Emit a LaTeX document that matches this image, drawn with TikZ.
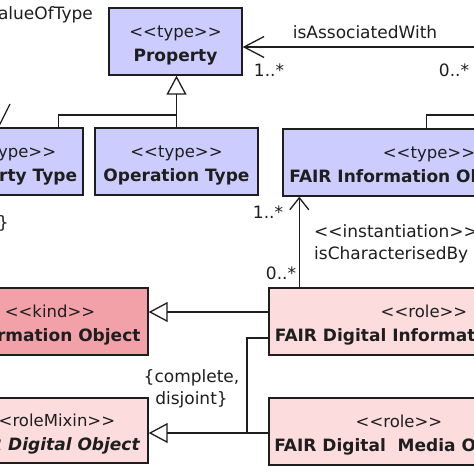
\documentclass[tikz,border=0pt]{standalone}
\usepackage{fontspec}
\setmainfont{DejaVu Sans}
\usetikzlibrary{arrows.meta}
\definecolor{typefill}{HTML}{CCCCFF}
\definecolor{kindfill}{HTML}{F3A1A8}
\definecolor{rolefill}{HTML}{FCDCDD}
\definecolor{linec}{HTML}{1E1E1E}
\newcommand\stereo[1]{<{}<#1>{}>}
\newcommand\boxtext[2]{\rule{0pt}{21pt}#1\\{\bfseries\fontsize{17}{24}\selectfont #2}\rule[-6pt]{0pt}{6pt}}
\begin{document}
\begin{tikzpicture}[x=1pt,y=-1pt,
  box/.style={draw=linec, line width=1.4pt, minimum height=67pt, inner sep=0pt,
    align=center, text=linec, font=\fontsize{16.5}{24}\selectfont},
  typebox/.style={box, fill=typefill},
  kindbox/.style={box, fill=kindfill},
  rolebox/.style={box, fill=rolefill},
  lbl/.style={text=linec, inner sep=0pt, font=\fontsize{17}{22}\selectfont},
  conn/.style={draw=linec, line width=1.3pt},
  gen/.style={conn, -{Triangle[open, length=19pt, width=20pt, line width=1.3pt]}},
  assocA/.style={conn, -{Straight Barb[length=20pt, width=21pt, line width=1.3pt]}},
  assocB/.style={conn, -{Straight Barb[length=12pt, width=19pt, line width=1.3pt]}}
]
\useasboundingbox (0,0) rectangle (474,474);
\clip (0,0) rectangle (474,474);
\fill[white] (0,0) rectangle (474,474);

% boxes
\node[typebox, minimum width=133pt] (prop) at (175.5,41.5) {\boxtext{\stereo{type}}{Property}};
\node[typebox, minimum width=146pt] (ptype) at (10,161.5) {\boxtext{\stereo{type}}{Property Type}};
\node[typebox, minimum width=163pt] (otype) at (176.5,161.5) {\boxtext{\stereo{type}}{Operation Type}};
\node[typebox, minimum width=292pt] (fiot) at (429,162.5) {\boxtext{\stereo{type}}{FAIR Information Object Type}};
\node[kindbox, minimum width=196pt] (io) at (50,321.5) {\boxtext{\stereo{kind}}{Information Object}};
\node[rolebox, minimum width=310pt] (fdio) at (424,321.5) {\boxtext{\stereo{role}}{FAIR Digital Information Object}};
\node[rolebox, minimum width=196pt, minimum height=65pt] (fdo) at (50,430.5) {\boxtext{\stereo{roleMixin}}{\itshape FAIR Digital Object}};
\node[rolebox, minimum width=260pt] (fdmo) at (399,431.5) {\boxtext{\stereo{role}}{FAIR Digital\ \ Media Object}};

% free ends
\coordinate (g1) at (176,115);
\coordinate (e1) at (480,115);
\coordinate (e2) at (480,47);
\coordinate (j) at (247,433);
\coordinate (s1) at (10,104);
\coordinate (s2) at (-2,128);

% generalization to Property
\draw[gen] (otype.north) -- (otype.north |- prop.south);
\draw[conn] ([xshift=-25pt]ptype.north east) |- (g1);
% line above FAIR Information Object Type
\draw[conn] ([xshift=144pt]fiot.north west) |- (e1);
% isAssociatedWith
\draw[assocA] (e2) -- (prop.east |- e2);
\node[lbl] (lassoc) at (365,32) {isAssociatedWith};
\node[lbl] (m1) at (269,70) {1..*};
\node[lbl] (m2) at (454,70) {0..*};
% cut-off line at top left
\draw[conn] (s1) -- (s2);
\node[lbl, anchor=east] (lvt) at (93,15) {hasValueOfType};
\node[lbl, anchor=east] (lbr) at (9,223) {\}};

% instantiation
\draw[assocB] ([xshift=31pt]fdio.north west) -- ([xshift=17pt]fiot.south west);
\node[lbl] (m3) at (268,212) {1..*};
\node[lbl] (m4) at (281,273) {0..*};
\node[lbl, anchor=west, align=left] (linst) at (314,244) {\stereo{instantiation}\\isCharacterisedBy};

% generalization to Information Object
\draw[gen] ([yshift=9.5pt]fdio.west) -- ([yshift=9.5pt]io.east);

% complete, disjoint generalization
\draw[conn] ([yshift=-16.5pt]fdio.west) -| (j);
\draw[conn] (fdmo.west |- j) -- (j);
\draw[gen, line width=2.8pt] (j) -- ([yshift=-2.5pt]fdo.east);
\node[lbl, align=center] (lcd) at (191.5,389) {\{complete,\\disjoint\}};
\end{tikzpicture}
\end{document}
